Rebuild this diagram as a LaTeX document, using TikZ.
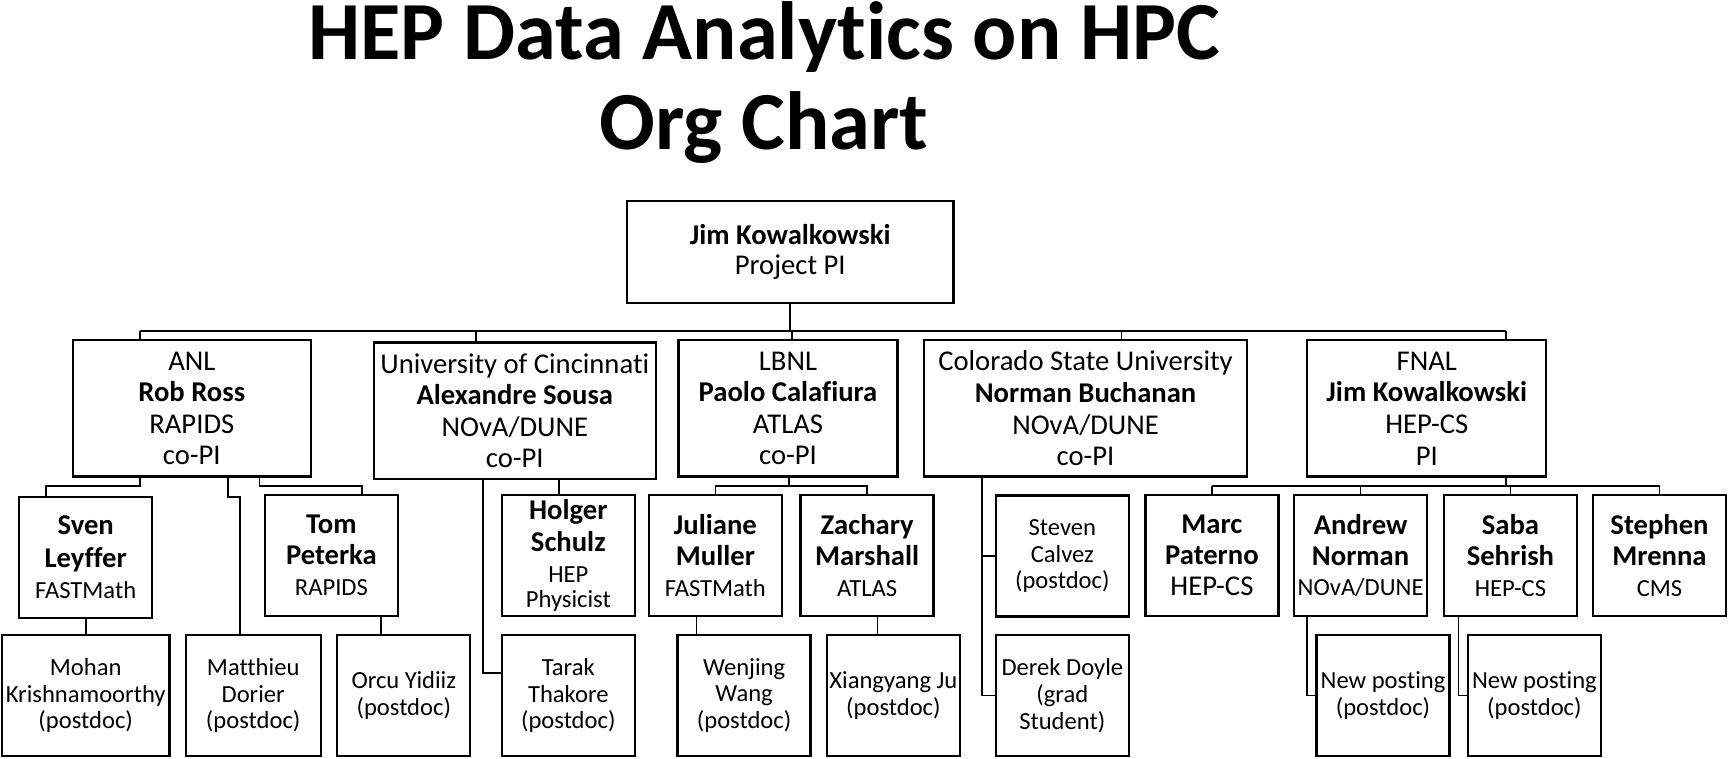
\documentclass[tikz,border=0pt]{standalone}
\usepackage{fontspec}
\setmainfont{Carlito}[Ligatures=NoCommon]

\newcommand{\affil}[1]{{\fontsize{14}{15.2}\selectfont #1}}

\tikzset{
	box/.style={draw, line width=1.3pt, inner sep=0pt, align=center,
		minimum width=2.66cm, minimum height=2.42cm},
	lead/.style={box, minimum height=2.73cm, font=\fontsize{16.3}{18}\selectfont},
	staff/.style={box, font=\fontsize{16.3}{17.6}\selectfont},
	junior/.style={box, font=\fontsize{14}{15.2}\selectfont},
	title/.style={inner sep=0pt, align=center, font=\fontsize{47}{51}\selectfont\bfseries},
	link/.style={line width=1pt},
	trunk/.style={line width=1.4pt}
}

\begin{document}
\begin{tikzpicture}[x=0.02cm, y=-0.02cm, line join=miter]
	
	\useasboundingbox (0,0) rectangle (1730,759);
	\fill[white] (0,0) rectangle (1730,759);
	
	% title
	\node[title, anchor=north] (title) at (764,1.5) {HEP Data Analytics on HPC\\Org Chart};
	
	% project PI
	\node[box, minimum width=6.53cm, minimum height=2.05cm, font=\fontsize{16.3}{17.4}\selectfont]
		(pi) at (790.2,252) {\textbf{Jim Kowalkowski}\\Project PI};
	
	% institutions
	\node[lead, minimum width=4.76cm] (anl) at (191.8,408.4) {ANL\\\textbf{Rob Ross}\\RAPIDS\\co-PI};
	\node[lead, minimum width=5.64cm] (uc) at (514.8,410.7) {University of Cincinnati\\\textbf{Alexandre Sousa}\\NOvA/DUNE\\co-PI};
	\node[lead, minimum width=4.38cm] (lbnl) at (788,408.4) {LBNL\\\textbf{Paolo Calafiura}\\ATLAS\\co-PI};
	\node[lead, minimum width=6.45cm] (csu) at (1085.5,408.4) {Colorado State University\\\textbf{Norman Buchanan}\\NOvA/DUNE\\co-PI};
	\node[lead, minimum width=4.78cm] (fnal) at (1426.8,408.4) {FNAL\\\textbf{Jim Kowalkowski}\\HEP-CS\\PI};
	
	% staff
	\node[staff] (sven) at (85.7,557.5) {\textbf{Sven}\\[1pt]\textbf{Leyffer}\\\affil{FASTMath}};
	\node[staff] (tom) at (331.4,555.5) {\textbf{Tom}\\\textbf{Peterka}\\\affil{RAPIDS}};
	\node[staff] (holger) at (568.3,555.5) {\textbf{Holger}\\[0.7pt]\textbf{Schulz}\\\affil{HEP}\\[-3.7pt]\affil{Physicist}};
	\node[staff] (juliane) at (715.4,555.5) {\textbf{Juliane}\\\textbf{Muller}\\\affil{FASTMath}};
	\node[staff] (zachary) at (867.1,555.5) {\textbf{Zachary}\\\textbf{Marshall}\\\affil{ATLAS}};
	\node[junior] (steven) at (1062.3,556) {Steven\\Calvez\\(postdoc)};
	\node[staff] (marc) at (1211.9,555.5) {\textbf{Marc}\\\textbf{Paterno}\\HEP-CS};
	\node[staff] (andrew) at (1360.6,555.5) {\textbf{Andrew}\\\textbf{Norman}\\\affil{NOvA/DUNE}};
	\node[staff] (saba) at (1510.4,555.5) {\textbf{Saba}\\\textbf{Sehrish}\\\affil{HEP-CS}};
	\node[staff] (stephen) at (1659.5,555.5) {\textbf{Stephen}\\\textbf{Mrenna}\\\affil{CMS}};
	
	% postdocs and students
	\node[junior, minimum width=3.35cm] (mohan) at (85.7,695.5) {Mohan\\Krishnamoorthy\\(postdoc)};
	\node[junior, minimum width=2.7cm] (matthieu) at (253.2,695.5) {Matthieu\\Dorier\\(postdoc)};
	\node[junior] (orcu) at (403.8,695.5) {Orcu Yidiiz\\(postdoc)};
	\node[junior] (tarak) at (568.3,695.5) {Tarak\\Thakore\\(postdoc)};
	\node[junior] (wenjing) at (744.1,695.5) {Wenjing\\Wang\\(postdoc)};
	\node[junior] (xiangyang) at (893.4,695.5) {Xiangyang Ju\\(postdoc)};
	\node[junior] (derek) at (1062.3,695.5) {Derek Doyle\\(grad\\Student)};
	\node[junior] (new1) at (1383,695.5) {New posting\\(postdoc)};
	\node[junior] (new2) at (1534.4,695.5) {New posting\\(postdoc)};
	
	% top bus
	\draw[trunk] (pi.south) -- (pi.south |- 0,330.7);
	\draw[link] (139.7,330.7) -- (1505.8,330.7);
	\foreach \n/\x in {anl/139.7, uc/475.7, lbnl/792.3, csu/1121.4, fnal/1505.8}
		\draw[link] (\x,330.7) -- (\x,0 |- \n.north);
	
	% ANL
	\draw[link] (139.7,0 |- anl.south) |- (45.9,486) -- (45.9,0 |- sven.north);
	\draw[link] (227.7,0 |- anl.south) |- (240.3,497.3) -- (240.3,0 |- matthieu.north);
	\draw[link] (259.5,0 |- anl.south) |- (361.7,486) -- (361.7,0 |- tom.north);
	\draw[link] (sven.south) -- (mohan.north);
	\draw[link] (380.8,0 |- tom.south) -- (380.8,0 |- orcu.north);
	
	% Cincinnati
	\draw[link] (483,0 |- uc.south) |- (tarak.west |- 0,672.7);
	\draw[link] (558.7,0 |- uc.south) -- (558.7,0 |- holger.north);
	
	% LBNL
	\draw[link] (788.9,0 |- lbnl.south) -- (788.9,486);
	\draw[link] (juliane.north) |- (788.9,486) -| (zachary.north);
	\draw[link] (696.6,0 |- juliane.south) -- (696.6,0 |- wenjing.north);
	\draw[link] (877.6,0 |- zachary.south) -- (877.6,0 |- xiangyang.north);
	
	% Colorado State
	\draw[link] (982,0 |- csu.south) |- (derek.west);
	\draw[link] (982,0 |- steven.west) -- (steven.west);
	
	% FNAL
	\draw[link] (1505.8,0 |- fnal.south) -- (1505.8,486);
	\draw[link] (marc.north |- 0,486) -- (stephen.north |- 0,486);
	\foreach \n in {marc, andrew, saba, stephen}
		\draw[link] (\n.north) -- (\n.north |- 0,486);
	\draw[link] (1307.2,0 |- andrew.south) |- (new1.west);
	\draw[link] (1458.4,0 |- saba.south) |- (new2.west);
	
\end{tikzpicture}
\end{document}
